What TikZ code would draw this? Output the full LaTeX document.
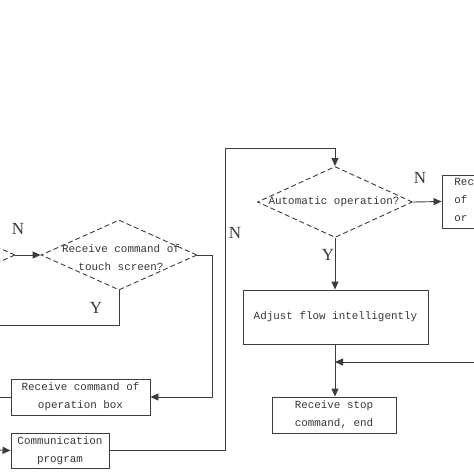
\documentclass[tikz,border=0pt]{standalone}
\usepackage{fontspec}
\setmonofont{Liberation Mono}
\newfontfamily\lblfont{Liberation Serif}
\usetikzlibrary{arrows.meta,shapes.geometric}
\definecolor{ln}{HTML}{3C3C3C}
\definecolor{tx}{HTML}{383838}
\tikzset{
  txt/.style={font=\ttfamily\fontsize{10.9}{18}\selectfont,text=tx,align=center,inner sep=0pt},
  boxnode/.style={draw=ln,rectangle,inner sep=0pt,line width=0.9pt,font=\ttfamily\fontsize{10.9}{18}\selectfont,text=tx,align=center},
  dia/.style={draw=ln,diamond,inner sep=0pt,dash pattern=on 5pt off 3pt,line width=0.9pt},
  arr/.style={-{Triangle[length=8pt,width=7pt]}},
  yn/.style={font=\lblfont\fontsize{17}{17}\selectfont,text=tx,inner sep=0pt}
}
\begin{document}
\begin{tikzpicture}[x=1pt,y=-1pt,line width=0.9pt,color=ln]
\clip (0,0) rectangle (474,474);
\fill[white] (0,0) rectangle (474,474);
% diamonds
\node[dia,minimum width=156pt,minimum height=70pt] (d1) at (-63,255) {};
\node[dia,minimum width=156pt,minimum height=70pt] (d2) at (119,255) {};
\node[txt] (d2t) at (121,258) {Receive command of\\touch screen?};
\node[dia,minimum width=155pt,minimum height=71pt] (d3) at (335,202) {};
\node[txt] (d3t) at (334,202) {Automatic operation?};
% boxes
\node[boxnode,minimum width=139pt,minimum height=36pt] (opbox) at (80.5,397) {Receive command of\\operation box};
\node[boxnode,minimum width=98pt,minimum height=35pt] (commbox) at (60,450.5) {Communication\\program};
\node[boxnode,minimum width=185pt,minimum height=54pt] (adjbox) at (335.5,317) {Adjust flow intelligently};
\node[boxnode,minimum width=124pt,minimum height=36pt] (stopbox) at (334,415) {Receive stop\\command, end};
\node[boxnode,minimum width=118pt,minimum height=53pt] (cutbox) at (501,201.5) {};
\node[txt,align=left,anchor=west] (cutt) at (454,201) {Receive command\\of touch screen\\or operation box};
% free ends
\coordinate (yleft) at (-5,325);
\coordinate (opleft) at (-5,397);
\coordinate (commin) at (-5,450);
\coordinate (rightin) at (480,362);
\coordinate (jn) at (335,362);
% connectors
\draw[arr] (d1.east) -- (d2.west);
\draw (d2.south) |- (yleft);
\draw[arr] (d2.east) -- ++(15,0) |- (opbox.east);
\draw (opbox.west) -- (opleft);
\draw[arr] (commin) -- (commbox.west);
\draw[arr] (commbox.east) -| (225,148) -| (d3.north);
\draw[arr] (d3.east) -- (cutbox.west);
\draw[arr] (d3.south) -- (d3.south |- adjbox.north);
\draw[arr] (adjbox.south -| d3.south) -- (d3.south |- stopbox.north);
\draw[arr] (rightin) -- (jn);
% labels
\node[yn] (n1) at (18,229) {N};
\node[yn] (y1) at (96,308) {Y};
\node[yn] (n2) at (235,233) {N};
\node[yn] (n3) at (420,178) {N};
\node[yn] (y2) at (328,255) {Y};
\end{tikzpicture}
\end{document}
